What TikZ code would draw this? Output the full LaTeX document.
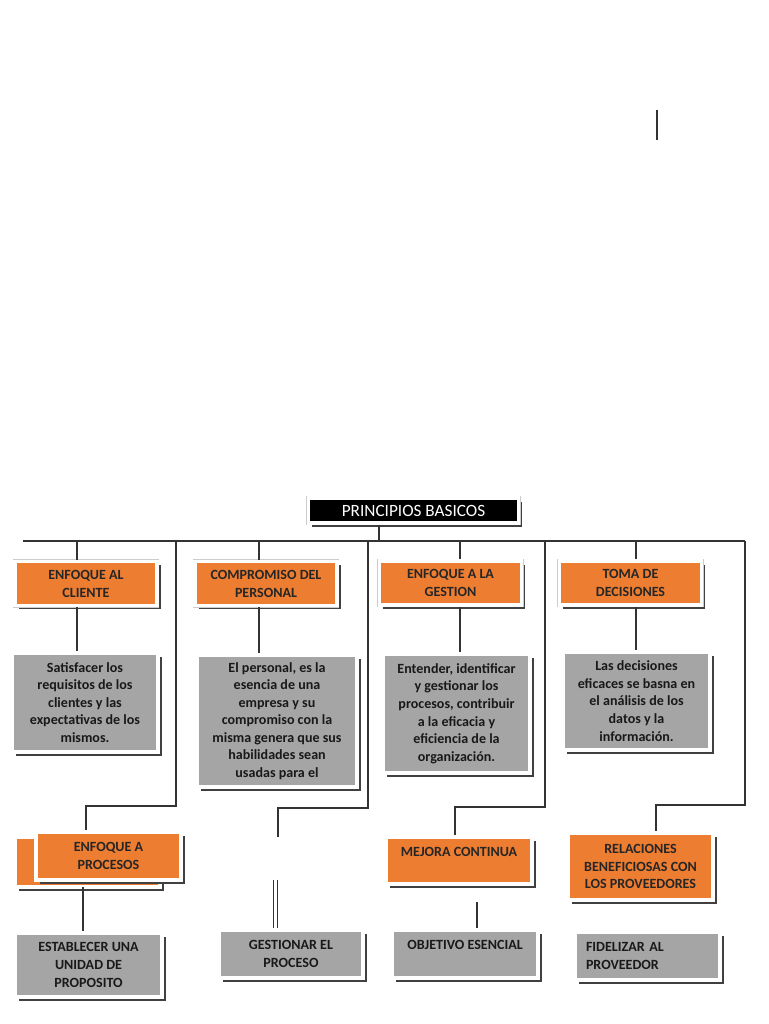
\documentclass[tikz,border=0pt]{standalone}
\usepackage{fontspec}
\setmainfont{Carlito}
\usepackage{xcolor}
\usepackage{tikz}
\usetikzlibrary{arrows,positioning,shadows}

\definecolor{boxorange}{HTML}{ED7D31}
\definecolor{boxgrey}{HTML}{A5A5A5}

\begin{document}
\begin{tikzpicture}[x=0.02cm, y=-0.02cm]
    \tikzstyle{frame} = [rectangle, drop shadow={shadow xshift=2.2pt, shadow yshift=-2.2pt, fill=black!75, opacity=1}, preaction={draw=black!20, line width=2.8pt}, draw=white, line width=2pt, align=center, inner sep=2pt]
    \tikzstyle{heading} = [frame, fill=black, text=white, font=\fontsize{9.8}{11}\selectfont, minimum width=4.2cm, minimum height=0.5cm]
    \tikzstyle{principle} = [frame, fill=boxorange, text=black!85, font=\bfseries\fontsize{8}{10.2}\selectfont, minimum width=2.84cm, minimum height=0.88cm]
    \tikzstyle{detail} = [frame, fill=boxgrey, text=black!90, font=\bfseries\fontsize{8}{10}\selectfont, minimum width=2.9cm]
    \tikzstyle{link} = [draw=black!80, line width=0.6pt]

    \useasboundingbox (0,0) rectangle (768,1024);

    % Title
    \node [heading] (title) at (413.5,510.5) {PRINCIPIOS BASICOS};

    % Principles
    \node [principle] (cliente) at (86,583.5) {ENFOQUE AL\\CLIENTE};
    \node [principle] (personal) at (266,583.5) {COMPROMISO DEL\\PERSONAL};
    \node [principle] (gestion) at (450.5,583) {ENFOQUE A LA\\GESTION};
    \node [principle] (decisiones) at (630.5,583) {TOMA DE\\DECISIONES};

    % Descriptions
    \node [detail, minimum width=2.92cm, minimum height=1.98cm] (satisfacer) at (85,702.5)
        {Satisfacer los\\requisitos de los\\clientes y las\\expectativas de los\\mismos.};
    \node [detail, minimum width=3.2cm, minimum height=2.64cm] (esencia) at (277,721)
        {El personal, es la\\esencia de una\\empresa y su\\compromiso con la\\misma genera que sus\\habilidades sean\\usadas para el};
    \node [detail, minimum width=2.94cm, minimum height=2.38cm] (entender) at (456.5,713.5)
        {Entender, identificar\\y gestionar los\\procesos, contribuir\\a la eficacia y\\eficiencia de la\\organización.};
    \node [detail, minimum width=2.94cm, minimum height=1.96cm] (eficaces) at (636.5,701)
        {Las decisiones\\eficaces se basna en\\el análisis de los\\datos y la\\información.};

    % Lower principles
    \node [principle, minimum width=2.9cm, minimum height=1cm] (procesosback) at (87.5,862) {};
    \node [principle, minimum width=2.9cm, minimum height=0.96cm] (procesos) at (108.5,856) {ENFOQUE A\\PROCESOS};
    \node [principle, minimum width=2.92cm, minimum height=0.94cm] (mejora) at (459,860.5) {MEJORA CONTINUA\\\mbox{}};
    \node [principle, minimum width=2.9cm, minimum height=1.34cm] (relaciones) at (640.5,866.5) {RELACIONES\\BENEFICIOSAS CON\\LOS PROVEEDORES};

    % Lower results
    \node [detail, font=\bfseries\fontsize{8}{10.2}\selectfont, minimum width=2.94cm, minimum height=1.28cm] (establecer) at (88.5,965) {ESTABLECER UNA\\UNIDAD DE\\PROPOSITO};
    \node [detail, font=\bfseries\fontsize{8}{10.2}\selectfont, minimum width=2.88cm, minimum height=0.96cm] (gestionar) at (291,954) {GESTIONAR EL\\PROCESO};
    \node [detail, font=\bfseries\fontsize{8}{10.2}\selectfont, minimum width=2.92cm, minimum height=0.96cm] (objetivo) at (465,954) {OBJETIVO ESENCIAL\\\mbox{}};
    \node [detail, font=\bfseries\fontsize{8}{10.2}\selectfont, minimum width=2.9cm, minimum height=0.96cm, text width=2.46cm, align=left, inner xsep=0.2cm] (fidelizar) at (647.5,956) {FIDELIZAR AL\\PROVEEDOR};

    % Bus
    \coordinate (t) at (379,541);
    \coordinate (busL) at (23,541);
    \coordinate (busR) at (745,541);
    \coordinate (b1) at (77,541);
    \coordinate (b2) at (176,541);
    \coordinate (b3) at (259,541);
    \coordinate (b4) at (368,541);
    \coordinate (b5) at (460,541);
    \coordinate (b6) at (545,541);
    \coordinate (b7) at (636,541);
    \coordinate (e2) at (86,806);
    \coordinate (e4) at (278,808);
    \coordinate (f4) at (278,837);
    \coordinate (e6) at (455,807);
    \coordinate (e8) at (656,805);
    \coordinate (p1) at (83,887);
    \coordinate (g1) at (275.5,880);
    \coordinate (o1) at (477,902);
    \coordinate (s1) at (657,110);
    \coordinate (s2) at (657,140);

    % Connectors
    \draw [link] (title.south -| t) -- (t);
    \draw [link] (busL) -- (busR);
    \draw [link] (b1) -- (cliente.north -| b1);
    \draw [link] (cliente.south -| b1) -- (satisfacer.north -| b1);
    \draw [link] (b3) -- (personal.north -| b3);
    \draw [link] (personal.south -| b3) -- (esencia.north -| b3);
    \draw [link] (b5) -- (gestion.north -| b5);
    \draw [link] (gestion.south -| b5) -- (entender.north -| b5);
    \draw [link] (b7) -- (decisiones.north -| b7);
    \draw [link] (decisiones.south -| b7) -- (eficaces.north -| b7);
    \draw [link] (b2) |- (e2) -- (procesos.north -| e2);
    \draw [link] (b4) |- (e4) -- (f4);
    \draw [link] (b6) |- (e6) -- (mejora.north -| e6);
    \draw [link] (busR) |- (e8) -- (relaciones.north -| e8);
    \draw [link] (p1) -- (establecer.north -| p1);
    \draw [link, double=white, double distance=2.2pt, line width=0.5pt] (g1) -- (gestionar.north -| g1);
    \draw [link] (o1) -- (objetivo.north -| o1);
    \draw [link] (s1) -- (s2);
\end{tikzpicture}
\end{document}
